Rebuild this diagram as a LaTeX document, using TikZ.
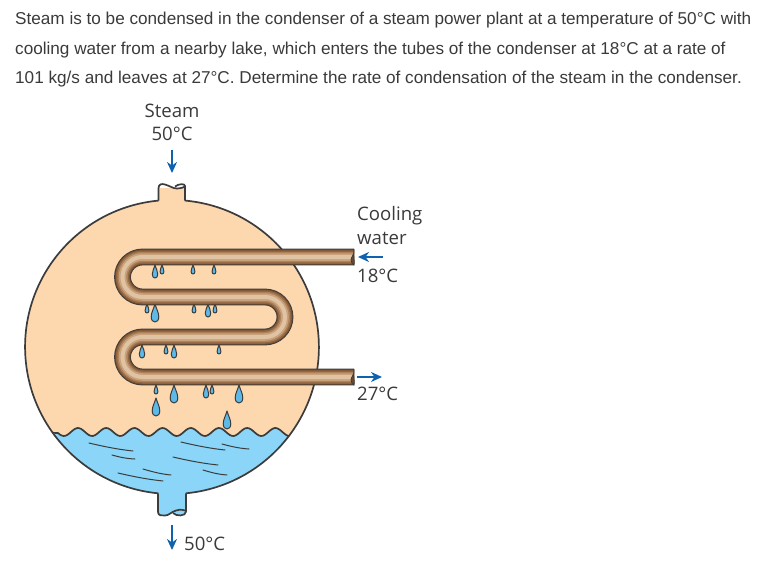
\documentclass[tikz,border=0pt]{standalone}
\usepackage{fontspec}
\setmainfont{Liberation Sans}
\newfontfamily\labelfont{Open Sans}
\usetikzlibrary{arrows.meta,calc,positioning}
\definecolor{shellcol}{HTML}{FDD8AF}
\definecolor{watercol}{HTML}{8AD5F8}
\definecolor{dropcol}{HTML}{5DB9E8}
\definecolor{linecol}{HTML}{3C3C3C}
\definecolor{arrowcol}{HTML}{0F62AE}
\definecolor{labelcol}{HTML}{3A3A3A}
\definecolor{tubeA}{HTML}{6A4A30}
\definecolor{tubeB}{HTML}{8F6440}
\definecolor{tubeC}{HTML}{AD8159}
\definecolor{tubeD}{HTML}{C9A27C}
\definecolor{tubeE}{HTML}{E0C3A3}
\tikzset{
  bodytext/.style={anchor=west,inner sep=0pt,text=labelcol,font=\fontsize{17.15}{20}\selectfont},
  figlabel/.style={inner sep=0pt,text=labelcol,font=\labelfont\fontsize{18.6}{20}\selectfont},
  flowarrow/.style={-{Stealth[length=11pt,width=10pt]},draw=arrowcol,line width=2pt},
  shellline/.style={draw=linecol,line width=1.7pt,line join=round},
  ripple/.style={draw=linecol,line width=1pt,line cap=round},
  dropline/.style={draw=linecol,fill=dropcol,line width=1pt,line join=round},
}
\begin{document}
\begin{tikzpicture}[x=1pt,y=-1pt]
\useasboundingbox (0,0) rectangle (780,578);
\node [bodytext] (Line1) at (15,20) {Steam is to be condensed in the condenser of a steam power plant at a temperature of 50°C with};
\node [bodytext] (Line2) at (15,50) {cooling water from a nearby lake, which enters the tubes of the condenser at 18°C at a rate of};
\node [bodytext] (Line3) at (15,79) {101 kg/s and leaves at 27°C. Determine the rate of condensation of the steam in the condenser.};
% shell
\path [fill=shellcol] (158.5,188) -- (158.5,200.6) arc [start angle=95.3,end angle=264.6,radius=147pt] -- (186,493.3) arc [start angle=-84.5,end angle=84.9,radius=147pt] -- (185,188) -- cycle;
% water
\path [fill=watercol] (52.6,432.8) -- plot [domain=58:288,samples=120,smooth] (\x,{432-4*cos((\x-78)*12.766)}) -- (288.6,436.5) arc [start angle=-37.5,end angle=-84.5,radius=147pt] -- (186,513) -- (158,513) -- (158,493.3) arc [start angle=264.6,end angle=215.7,radius=147pt] -- cycle;
\draw [shellline] (52.6,432.8) -- plot [domain=58:288,samples=120,smooth] (\x,{432-4*cos((\x-78)*12.766)}) -- (288.6,436.5);
\foreach \xa/\ya/\xb/\yb in {89/443/133/451,112/455/135/459,118/473/163/481,143/469/171/475,181/442/225/450,222/444/249/449,173/457/218/465,203/470/227/475}
  \draw [ripple] (\xa,\ya) .. controls ($(\xa,\ya)!0.4!(\xb,\yb)+(0,1)$) and ($(\xa,\ya)!0.7!(\xb,\yb)+(0,1)$) .. (\xb,\yb);
% outline
\draw [shellline] (158.5,200.6) arc [start angle=95.3,end angle=264.6,radius=147pt];
\draw [shellline] (186,493.3) arc [start angle=-84.5,end angle=84.9,radius=147pt];
\draw [shellline] (158.5,200.6) -- (158.5,188) .. controls (158.5,184) and (162,183.5) .. (165,184.5) .. controls (170,186) and (173,188.5) .. (177,188.5) .. controls (181,188.5) and (185,187) .. (185,186);
\draw [shellline] (185,200.6) -- (185,186) .. controls (185,183.5) and (179,183.5) .. (175,186.5);
\draw [shellline,fill=watercol] (158,493.3) -- (158,512) .. controls (158,516) and (162,515.5) .. (165,515.5) .. controls (169,515.5) and (171,512) .. (176,510.5) .. controls (180,509) and (186,510) .. (186,511.5) -- (186,493.3);
\draw [shellline,fill=watercol] (173,513) .. controls (176,516.5) and (186,516.5) .. (186,511.5);
% drops
\foreach \dx/\dy/\dh in {155/265/13,162/265/9,193/265/9,214/265/9,147/304/9,155/304/18,194/304/9,208/304/13,215/304/9,142/345/13,166/345/9,174/345/13,219/345/9,156/385/9,174/385/18,206/385/13,212/385/9,239/385/18,156/398/18,227/411/18}
  \draw [dropline,shift={(\dx,\dy)},scale=\dh] (0,0) .. controls (0.08,0.3) and (0.21,0.45) .. (0.21,0.72) .. controls (0.21,0.9) and (0.11,1) .. (0,1) .. controls (-0.11,1) and (-0.21,0.9) .. (-0.21,0.72) .. controls (-0.21,0.45) and (-0.08,0.3) .. cycle;
% tube
\foreach \tw/\tc in {16.8/linecol,15.2/tubeA,13.5/tubeB,10.5/tubeC,7.5/tubeD,4/tubeE}
  \draw [line width=\tw pt,color=\tc,line join=round] (354,257) -- (142.5,257) arc [start angle=90,end angle=270,radius=20pt] -- (265,297) arc [start angle=90,end angle=-90,radius=20pt] -- (142.5,337) arc [start angle=90,end angle=270,radius=20pt] -- (354,377);
\foreach \ty in {257,377}
  \draw [draw=linecol,fill=tubeA,line width=0.8pt] (354,\ty-8) .. controls (355,\ty-3) and (351,\ty) .. (351,\ty+3) .. controls (351,\ty+6) and (353,\ty+8) .. (354,\ty+8) .. controls (355,\ty+5) and (353,\ty) .. (354,\ty-8);
% labels
\node [figlabel] (Steam) at (172,111) {Steam};
\node [figlabel] (SteamTemp) at (172,134) {50°C};
\node [figlabel,anchor=west] (Cooling) at (357,216) {Cooling};
\node [figlabel,anchor=west] (Water) at (357,238) {water};
\node [figlabel,anchor=west] (InTemp) at (357,276) {18°C};
\node [figlabel,anchor=west] (OutTemp) at (357,394) {27°C};
\node [figlabel,anchor=west] (DrainTemp) at (184,544) {50°C};
% arrows
\coordinate (SteamStart) at (172,150);
\coordinate (SteamTip) at (172,173);
\coordinate (InStart) at (383,257);
\coordinate (InTip) at (358,257);
\coordinate (OutStart) at (357,377);
\coordinate (OutTip) at (382,377);
\coordinate (DrainStart) at (172,525);
\coordinate (DrainTip) at (172,550);
\draw [flowarrow] (SteamStart) -- (SteamTip);
\draw [flowarrow] (InStart) -- (InTip);
\draw [flowarrow] (OutStart) -- (OutTip);
\draw [flowarrow] (DrainStart) -- (DrainTip);
\end{tikzpicture}
\end{document}
